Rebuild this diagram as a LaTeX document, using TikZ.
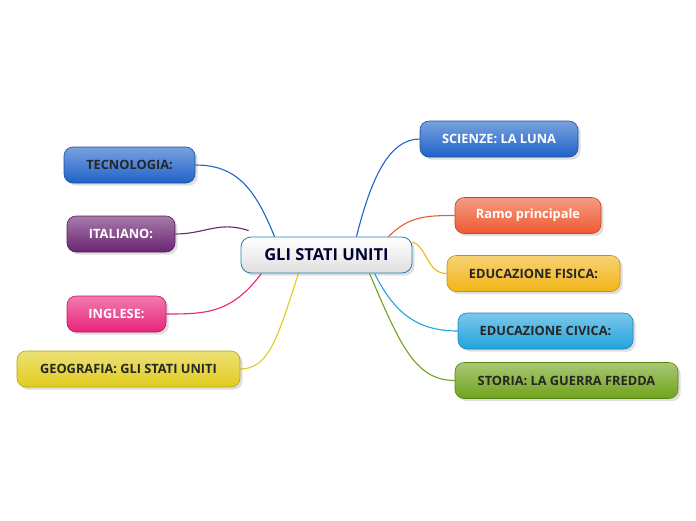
\documentclass[tikz,border=0pt]{standalone}
\usepackage{fontspec}
\setmainfont{Open Sans}
\usetikzlibrary{shadows,backgrounds}
\definecolor{cblue}{HTML}{1E63C8}
\definecolor{corange}{HTML}{EE5A30}
\definecolor{cyel}{HTML}{F2B417}
\definecolor{ccyan}{HTML}{22A3DD}
\definecolor{cgreen}{HTML}{6FA31A}
\definecolor{cpurple}{HTML}{6A2472}
\definecolor{cpink}{HTML}{E8237A}
\definecolor{cgyel}{HTML}{E0CC1C}
\begin{document}
\begin{tikzpicture}[x=1pt,y=-1pt,
  topic/.style={rounded corners=9pt,draw=#1!80!black,line width=0.6pt,
    top color=#1!60!white,bottom color=#1,minimum height=36pt,inner xsep=0pt,
    font=\fontsize{12.8}{15}\selectfont\bfseries,drop shadow={opacity=0.25}},
  wt/.style={text=white},
  dt/.style={text=black!85},
  link/.style={line width=1.1pt,#1}]
\useasboundingbox (0,0) rectangle (696,520);
\node[rounded corners=10pt,draw=ccyan!80!black,line width=0.8pt,top color=white,bottom color=gray!25,
  minimum width=171pt,minimum height=36pt,font=\fontsize{16.5}{18}\selectfont\bfseries,text=blue!20!black,
  drop shadow={opacity=0.25}] (c) at (326.5,255) {GLI STATI UNITI};
\node[topic=cblue,wt,minimum width=158pt] (s) at (499,139) {SCIENZE: LA LUNA};
\node[topic=corange,wt,minimum width=146pt] (r) at (528,215.5) {Ramo principale};
\node[topic=cyel,dt,minimum width=173pt] (f) at (533.5,273.5) {EDUCAZIONE FISICA:};
\node[topic=ccyan,dt,minimum width=175pt] (v) at (545.5,331) {EDUCAZIONE CIVICA:};
\node[topic=cgreen,dt,minimum width=223pt] (g) at (566.5,380.5) {STORIA: LA GUERRA FREDDA};
\node[topic=cblue,dt,minimum width=131pt] (t) at (129.5,165) {TECNOLOGIA:};
\node[topic=cpurple,wt,minimum width=108pt] (i) at (121,234) {ITALIANO:};
\node[topic=cpink,wt,minimum width=99pt] (e) at (116.5,314) {INGLESE:};
\node[topic=cgyel,dt,minimum width=223pt] (o) at (128.5,369) {GEOGRAFIA: GLI STATI UNITI};
\begin{scope}[on background layer]
\draw[link=cblue] ([xshift=30pt]c.north) .. controls +(15,-60) and +(-30,0) .. (s.west);
\draw[link=corange] ([xshift=62pt]c.north) .. controls +(20,-20) and +(-30,0) .. (r.west);
\draw[link=cyel] ([yshift=13pt]c.east) .. controls +(15,5) and +(-20,0) .. (f.west);
\draw[link=ccyan] ([xshift=48pt]c.south) .. controls +(20,40) and +(-40,0) .. (v.west);
\draw[link=cgreen] ([xshift=43pt]c.south) .. controls +(30,70) and +(-40,0) .. (g.west);
\draw[link=cblue] ([xshift=-52pt]c.north) .. controls +(-20,-50) and +(40,0) .. (t.east);
\draw[link=cpurple] ([xshift=8pt,yshift=6pt]c.north west) .. controls +(-30,-10) and +(30,0) .. (i.east);
\draw[link=cpink] ([xshift=-65pt]c.south) .. controls +(-30,40) and +(40,0) .. (e.east);
\draw[link=cgyel] ([xshift=-28pt]c.south) .. controls +(-20,60) and +(30,0) .. (o.east);
\end{scope}
\end{tikzpicture}
\end{document}
